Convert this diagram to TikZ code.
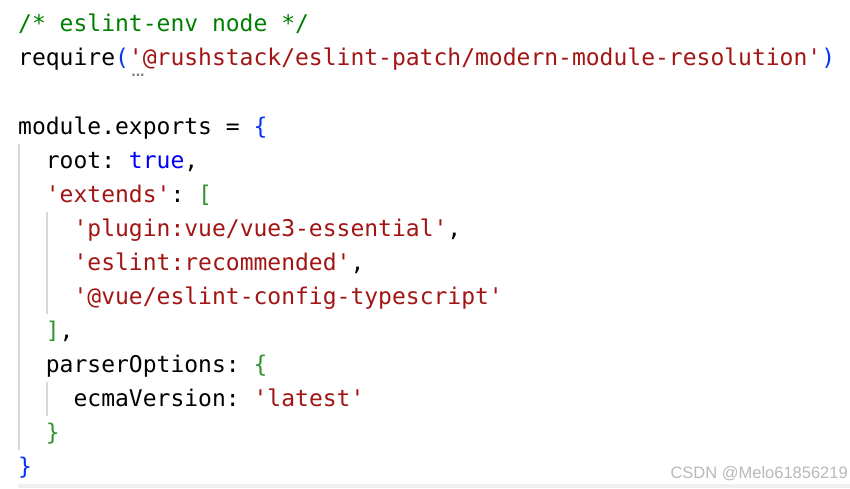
\documentclass[tikz,border=0pt]{standalone}
\usepackage{fontspec}
\setmonofont{DejaVu Sans Mono}
\setsansfont{Liberation Sans}
\definecolor{cm}{HTML}{008000}
\definecolor{st}{HTML}{A31515}
\definecolor{kw}{HTML}{0000FF}
\definecolor{b1}{HTML}{0431FA}
\definecolor{b2}{HTML}{319331}
\definecolor{gd}{HTML}{D8D8D8}
\begin{document}
\begin{tikzpicture}[x=1pt,y=-1pt,
  ln/.style={anchor=base west,inner sep=0pt,font=\fontsize{23}{23}\ttfamily}]
\useasboundingbox (0,0) rectangle (850,488);
\fill[white] (0,0) rectangle (850,488);
\fill[gray!12] (18,484) rectangle (850,488);
\draw[gd,line width=1.2pt] (19,144) -- (19,450);
\draw[gd,line width=1.2pt] (47,212) -- (47,314);
\draw[gd,line width=1.2pt] (47,382) -- (47,416);
\def\bx{18}\def\cw{13.85}
\node[ln] (l1) at (\bx,31) {\textcolor{cm}{/* eslint-env node */}};
\node[ln] (l2) at (\bx,65) {require\textcolor{b1}{(}\textcolor{st}{'@rushstack/eslint-patch/modern-module-resolution'}\textcolor{b1}{)}};
\node[ln] (l4) at (\bx,134) {module.exports = \textcolor{b1}{\{}};
\node[ln] (l5) at (\bx+2*\cw,168) {root: \textcolor{kw}{true},};
\node[ln] (l6) at (\bx+2*\cw,202) {\textcolor{st}{'extends'}: \textcolor{b2}{[}};
\node[ln] (l7) at (\bx+4*\cw,236) {\textcolor{st}{'plugin:vue/vue3-essential'},};
\node[ln] (l8) at (\bx+4*\cw,270) {\textcolor{st}{'eslint:recommended'},};
\node[ln] (l9) at (\bx+4*\cw,304) {\textcolor{st}{'@vue/eslint-config-typescript'}};
\node[ln] (l10) at (\bx+2*\cw,338) {\textcolor{b2}{]},};
\node[ln] (l11) at (\bx+2*\cw,372) {parserOptions: \textcolor{b2}{\{}};
\node[ln] (l12) at (\bx+4*\cw,406) {ecmaVersion: \textcolor{st}{'latest'}};
\node[ln] (l13) at (\bx+2*\cw,440) {\textcolor{b2}{\}}};
\node[ln] (l14) at (\bx,474) {\textcolor{b1}{\}}};
\node[anchor=base,inner sep=0pt,font=\fontsize{16}{16}\bfseries\sffamily,text=gray] (dots) at (138,76) {...};
\node[anchor=base east,inner sep=0pt,font=\fontsize{16.5}{16.5}\sffamily,text=gray!55] (wm) at (848,478) {CSDN @Melo61856219};
\end{tikzpicture}
\end{document}
